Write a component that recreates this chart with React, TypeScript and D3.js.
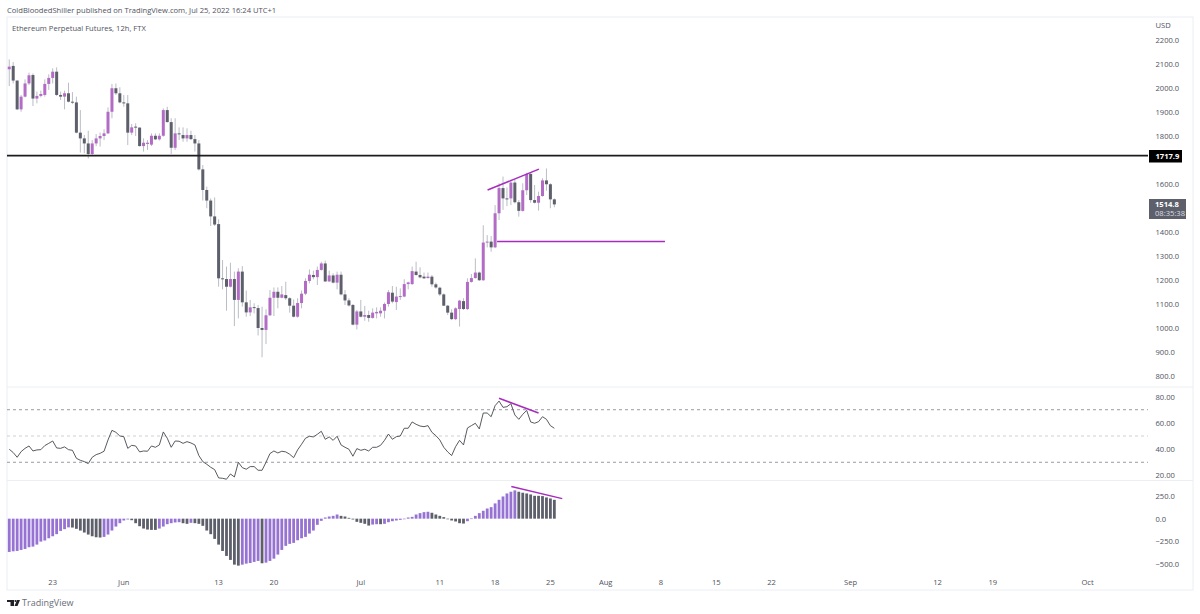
import React from "react";
import * as d3 from "d3";

const opens = [2078,2092,2031,1911,1964,2019,2054,1956,1967,1971,2017,2042,2068,1971,1964,1978,1943,1940,1814,1790,1769,1725,1769,1790,1800,1811,1901,1999,1978,1940,1936,1814,1839,1835,1758,1767,1764,1801,1786,1801,1908,1858,1751,1811,1804,1790,1804,1787,1769,1661,1575,1531,1465,1433,1207,1204,1172,1204,1117,1235,1107,1065,1087,1083,1000,992,1053,1126,1151,1126,1137,1124,1093,1047,1104,1143,1196,1221,1212,1242,1269,1194,1219,1189,1222,1140,1115,1096,1014,1069,1047,1054,1042,1061,1061,1072,1100,1147,1108,1129,1131,1183,1183,1235,1221,1214,1208,1214,1182,1168,1140,1093,1064,1037,1079,1112,1079,1192,1208,1231,1199,1356,1360,1336,1478,1583,1540,1540,1606,1524,1488,1574,1642,1533,1522,1550,1615,1599,1536];
const closes = [2089,2031,1911,1964,2019,2053,1956,1967,1975,2017,2042,2068,1971,1964,1978,1943,1939,1814,1790,1769,1725,1769,1790,1800,1811,1901,1999,1978,1940,1936,1814,1836,1835,1758,1772,1772,1801,1786,1801,1908,1858,1751,1811,1807,1790,1804,1787,1769,1661,1575,1531,1465,1431,1207,1204,1172,1204,1117,1235,1107,1065,1086,1083,1000,992,1053,1126,1151,1126,1140,1124,1093,1047,1104,1143,1196,1222,1212,1242,1269,1194,1219,1189,1222,1140,1115,1094,1014,1069,1047,1054,1042,1064,1067,1072,1100,1149,1110,1131,1133,1183,1190,1237,1221,1211,1207,1214,1182,1169,1140,1093,1064,1037,1082,1114,1079,1192,1208,1231,1199,1356,1360,1336,1478,1583,1540,1539,1606,1524,1488,1574,1642,1533,1522,1550,1615,1599,1536,1515];
const highs = [2119,2108,2031,1971,2036,2064,2061,1985,1989,2036,2057,2082,2086,1985,1989,2022,1983,1964,1908,1804,1822,1783,1808,1814,1828,1919,2017,2019,2003,1971,1971,1850,1853,1836,1790,1783,1811,1811,1811,1915,1922,1874,1874,1836,1836,1832,1822,1804,1783,1679,1589,1540,1544,1453,1283,1256,1272,1235,1249,1258,1156,1117,1103,1096,1089,1078,1158,1169,1169,1175,1193,1128,1119,1124,1156,1207,1244,1239,1256,1276,1281,1239,1228,1235,1235,1158,1124,1100,1075,1117,1092,1072,1082,1086,1086,1106,1158,1175,1172,1165,1203,1193,1256,1276,1253,1231,1231,1221,1189,1172,1144,1096,1078,1086,1117,1124,1207,1225,1290,1235,1428,1387,1383,1512,1603,1631,1586,1619,1619,1533,1603,1647,1647,1596,1568,1624,1665,1603,1540];
const lows = [2008,2019,1908,1901,1961,2012,1925,1936,1961,1964,1992,2019,1967,1950,1911,1940,1933,1811,1731,1728,1706,1721,1758,1756,1783,1808,1874,1971,1936,1922,1762,1804,1800,1756,1735,1742,1758,1783,1781,1797,1856,1725,1742,1783,1776,1776,1783,1735,1656,1531,1499,1425,1425,1172,1161,1072,1169,1008,1040,1089,1047,1050,1061,969,878,933,1050,1050,1082,1124,1117,1064,1044,1043,1082,1137,1186,1203,1179,1239,1192,1192,1186,1161,1136,1096,1089,1011,994,1044,1030,1026,1039,1040,1047,1040,1089,1103,1075,1117,1128,1161,1179,1218,1207,1204,1206,1172,1164,1133,1092,1054,1033,1033,1006,1075,1075,1189,1206,1196,1196,1336,1318,1333,1450,1492,1508,1512,1519,1464,1485,1554,1522,1519,1489,1547,1572,1499,1503];
const rsi = [39.9,37.4,33.8,38.1,40.6,42.4,38.6,39.4,39.6,42.7,44.4,46.2,40.9,40.6,41.7,39.6,39.1,33,31.5,30.5,29,33.8,35.8,36.8,38.4,47,54.3,52.8,50,49.5,40.6,42.9,42.4,37.9,38.6,38.4,42.4,41.4,43.2,53.1,48.3,41.4,46.2,46,44.4,45.7,44.7,43.2,35.1,30.5,28.5,26.2,24.4,18.1,17.8,17.1,21.1,18.8,30,25.9,24.7,26.7,26.7,23.9,23.9,30,36.6,38.6,37.1,38.4,37.9,36.1,33.5,39.4,43.7,48.3,49.8,49.3,51.3,53.6,47.5,49.3,46.7,49.8,43.2,41.4,39.9,34.6,40.4,39.1,39.9,38.6,41.4,41.4,42.9,46.7,51.5,47.5,49.5,50,55.9,55.9,60.7,58.9,57.6,57.1,57.9,52.8,50.3,47,41.4,37.9,35.1,41.9,46.7,43.2,56.1,57.9,59.7,55.4,67.5,67.5,64.7,73.1,76.6,71.8,72.3,74.6,66,62.7,66.5,69.5,60.7,59.7,60.9,64.7,62.7,57.9,55.9];
const macdHist = [-367,-360,-356,-345,-334,-315,-308,-286,-253,-241,-216,-194,-171,-135,-116,-96,-98,-112,-131,-153,-175,-194,-205,-208,-201,-175,-131,-87,-50,-20,-9,-17,-50,-83,-109,-120,-124,-124,-109,-87,-61,-50,-42,-39,-50,-57,-46,-50,-57,-79,-131,-171,-223,-286,-356,-411,-455,-507,-518,-507,-496,-489,-477,-466,-492,-485,-466,-441,-396,-345,-300,-278,-267,-238,-216,-201,-164,-131,-68,-24,13,24,31,46,31,24,9,-9,-35,-46,-57,-76,-65,-61,-61,-57,-39,-28,-20,-13,-2,13,20,46,61,72,76,65,46,31,17,-6,-20,-31,-50,-54,-28,2,31,61,87,112,127,168,208,245,278,297,312,297,286,278,267,252,252,249,234,223,208];

const priceTicks = [2200,2100,2000,1900,1800,1600,1400,1300,1200,1100,1000,900,800];
const rsiTicks = [80,60,40,20];
const rsiLevels = [70,50,30];
const macdTicks = [250,0,-250,-500];
const dateTicks: [string, string][] = [["2022-05-23","23"],["2022-06-01","Jun"],["2022-06-13","13"],["2022-06-20","20"],["2022-07-01","Jul"],["2022-07-11","11"],["2022-07-18","18"],["2022-07-25","25"],["2022-08-01","Aug"],["2022-08-08","8"],["2022-08-15","15"],["2022-08-22","22"],["2022-09-01","Sep"],["2022-09-12","12"],["2022-09-19","19"],["2022-10-01","Oct"]];

const levelPrice = 1717.9;
const lastPrice = 1514.8;
const countdown = "08:35:38";
const priceTrend: [number, number][] = [[121.1,1575],[134.1,1662]];
const supportLine: [number, number][] = [[123.5,1360],[166,1360]];
const rsiTrend: [number, number][] = [[124,78.7],[134,67.5]];
const macdTrend: [number, number][] = [[127.1,354],[140,221]];

const C = {
  up: "#b26cc5", down: "#5d606b", wick: "#b2b5be", purple: "#a62cbd", macdUp: "#9673d2",
  frame: "#eceef3", text: "#50535e", line: "#45474d", dash: "#8d9097", dashMid: "#c9cbd0",
};
const FONT = "'Open Sans', 'Noto Sans', sans-serif";
const FS = 7.6;

// k = 11 is 23 May 00:00; candles are 12 hours apart
const t0 = Date.UTC(2022, 4, 23);
const H12 = 12 * 3600 * 1000;
const dateOf = (k: number) => new Date(t0 + (k - 11) * H12);
const x = d3.scaleUtc().domain([dateOf(11), dateOf(11 + 262)]).range([52.7, 1087.6]);
const xk = (k: number) => x(dateOf(k));
const yP = d3.scaleLinear().domain([2200, 800]).range([40, 376]);
const yR = d3.scaleLinear().domain([80, 20]).range([396.6, 475.4]);
const yM = d3.scaleLinear().domain([250, -500]).range([496, 564]);

const L = 7, R = 1193, PR = 1148, TOP = 17, BOTTOM = 590;
const S1 = 387, S2 = 480.5;

export default function App() {
  const rsiLine = d3.line<number>().x((_, i) => xk(i)).y((d) => yR(d)).curve(d3.curveLinear)(rsi) ?? "";
  const tick = { fontSize: FS, fill: C.text, fontFamily: FONT } as const;
  const seg = (s: [number, number][], y: (v: number) => number, w = 1.5) => (
    <line x1={xk(s[0][0])} y1={y(s[0][1])} x2={xk(s[1][0])} y2={y(s[1][1])} stroke={C.purple} strokeWidth={w} />
  );
  return (
    <svg width={1200} height={614} style={{ position: "absolute", left: 0, top: 0, background: "#fff" }}>
      <defs>
        <clipPath id="plot"><rect x={L} y={TOP} width={PR - L} height={BOTTOM - TOP} /></clipPath>
      </defs>
      <text x={7} y={12.5} {...tick}>ColdBloodedShiller published on TradingView.com, Jul 25, 2022 16:24 UTC+1</text>

      <rect x={L} y={TOP} width={R - L} height={BOTTOM - TOP} fill="none" stroke={C.frame} strokeWidth={1} />
      <line x1={L} x2={R} y1={S1} y2={S1} stroke={C.frame} />
      <line x1={L} x2={R} y1={S2} y2={S2} stroke={C.frame} />
      <text x={12} y={30.5} {...tick}>Ethereum Perpetual Futures, 12h, FTX</text>

      <g clipPath="url(#plot)">
        {opens.map((o, i) => {
          const c = closes[i];
          const up = c >= o;
          const cx = xk(i);
          const top = yP(Math.max(o, c));
          const bot = yP(Math.min(o, c));
          return (
            <g key={i}>
              <line x1={cx} x2={cx} y1={yP(highs[i])} y2={yP(lows[i])} stroke={C.wick} strokeWidth={0.9} />
              <rect x={cx - 1.5} width={3} y={top} height={Math.max(bot - top, 1)} fill={up ? C.up : C.down} />
            </g>
          );
        })}
        <line x1={L} x2={PR} y1={yP(levelPrice)} y2={yP(levelPrice)} stroke="#1d1d20" strokeWidth={1.8} />
        {seg(priceTrend, yP)}
        {seg(supportLine, yP)}

        {rsiLevels.map((v) => (
          <line key={v} x1={L} x2={PR} y1={yR(v)} y2={yR(v)} stroke={v === 50 ? C.dashMid : C.dash} strokeWidth={0.9} strokeDasharray="3 3" />
        ))}
        <path d={rsiLine} fill="none" stroke={C.line} strokeWidth={0.9} />
        {seg(rsiTrend, yR)}

        {macdHist.map((v, i) => {
          const rising = i === 0 || v > macdHist[i - 1];
          const y0 = yM(0);
          const y1 = yM(v);
          return <rect key={i} x={xk(i) - 1.4} width={2.8} y={Math.min(y0, y1)} height={Math.max(Math.abs(y1 - y0), 0.6)} fill={rising ? C.macdUp : C.down} />;
        })}
        {seg(macdTrend, yM)}
      </g>

      {priceTicks.map((p) => (
        <text key={p} x={1155.5} y={yP(p) + 3} {...tick}>{d3.format(".1f")(p)}</text>
      ))}
      <text x={1155.5} y={28} {...tick}>USD</text>
      {rsiTicks.map((v) => (
        <text key={v} x={1155.5} y={yR(v) + 3} {...tick}>{d3.format(".2f")(v)}</text>
      ))}
      {macdTicks.map((v) => (
        <text key={v} x={1155.5} y={yM(v) + 3} {...tick}>{d3.format(".1f")(v).replace("-", "\u2212")}</text>
      ))}
      {dateTicks.map(([d, label]) => (
        <text key={d} x={x(new Date(d + "T00:00:00Z"))} y={584.5} textAnchor="middle" {...tick}>{label}</text>
      ))}

      <rect x={1149} y={150} width={33} height={12.5} fill="#000" />
      <text x={1155.5} y={yP(levelPrice) + 2.8} fontSize={FS} fontWeight={700} fill="#fff" fontFamily={FONT}>{d3.format(".1f")(levelPrice)}</text>
      <rect x={1149} y={199} width={37} height={20} fill={C.down} />
      <text x={1155} y={207} fontSize={FS} fontWeight={700} fill="#fff" fontFamily={FONT}>{d3.format(".1f")(lastPrice)}</text>
      <text x={1155} y={216.2} fontSize={FS} fill="#dcdde2" fontFamily={FONT}>{countdown}</text>

      <g fill="#1f2127">
        <path d="M7 600 h7 v6 h-3.5 v-4 h-3.5 z" />
        <circle cx={15.5} cy={601} r={1.1} />
        <path d="M17 600 h3 l-2.5 6 h-3 z" />
      </g>
      <text x={22} y={606} fontSize={9} fill="#6a6d78" fontFamily={FONT}>TradingView</text>
    </svg>
  );
}
